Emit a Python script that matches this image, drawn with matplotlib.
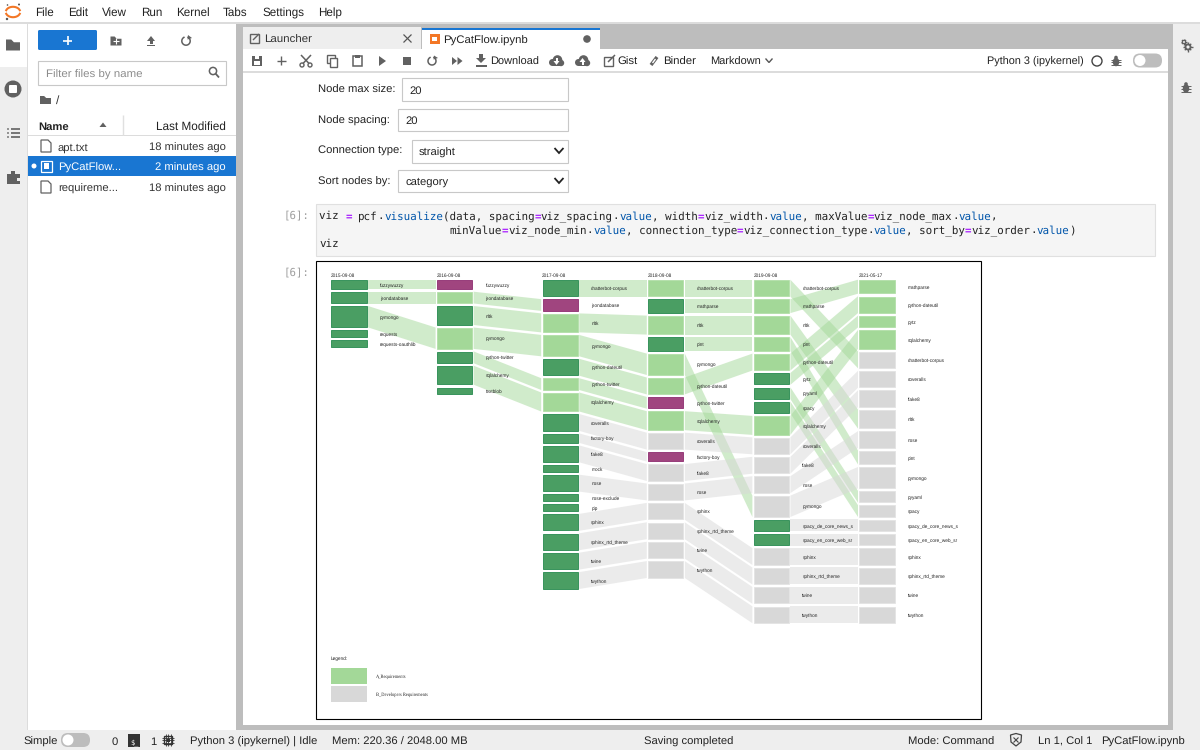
import re
import numpy as np
import matplotlib
matplotlib.use("Agg")
import matplotlib.pyplot as plt
from matplotlib.patches import Rectangle, Polygon, Circle, Ellipse, FancyBboxPatch

plt.rcParams["text.hinting"] = "none"

# ---------- chart data ----------
dates = ["2015-09-08", "2016-09-08", "2017-09-08", "2018-09-08", "2019-09-08", "2021-05-17"]

names_2015 = ["fuzzywuzzy", "jsondatabase", "pymongo", "requests", "requests-oauthlib"]
sizes_2015 = [9.5, 11.8, 21.4, 7.4, 7.4]
kinds_2015 = ["N", "N", "N", "N", "N"]

names_2016 = ["fuzzywuzzy", "jsondatabase", "nltk", "pymongo", "python-twitter", "sqlalchemy", "textblob"]
sizes_2016 = [9.5, 11.8, 19, 21.4, 11.8, 19, 7.4]
kinds_2016 = ["X", "A", "N", "A", "N", "N", "N"]

names_2017 = ["chatterbot-corpus", "jsondatabase", "nltk", "pymongo", "python-dateutil", "python-twitter",
              "sqlalchemy", "coveralls", "factory-boy", "flake8", "mock", "nose", "nose-exclude", "pip",
              "sphinx", "sphinx_rtd_theme", "twine", "twython"]
sizes_2017 = [16.9, 11.8, 19, 21.4, 16.9, 11.8, 19, 16.9, 9.5, 16.9, 7.4, 16.9, 7.4, 7.4, 16.9, 16.9, 16.9, 16.9]
kinds_2017 = ["N", "X", "A", "A", "N", "A", "A", "N", "N", "N", "N", "N", "N", "N", "N", "N", "N", "N"]

names_2018 = ["chatterbot-corpus", "mathparse", "nltk", "pint", "pymongo", "python-dateutil", "python-twitter",
              "sqlalchemy", "coveralls", "factory-boy", "flake8", "nose", "sphinx", "sphinx_rtd_theme",
              "twine", "twython"]
sizes_2018 = [16.9, 14, 19, 14, 21.4, 16.9, 11.8, 19, 16.9, 9.5, 16.9, 16.9, 16.9, 16.9, 16.9, 16.9]
kinds_2018 = ["A", "N", "A", "N", "A", "A", "X", "A", "B", "X", "B", "B", "B", "B", "B", "B"]

names_2019 = ["chatterbot-corpus", "mathparse", "nltk", "pint", "python-dateutil", "pytz", "pyyaml", "spacy",
              "sqlalchemy", "coveralls", "flake8", "nose", "pymongo", "spacy_de_core_news_s",
              "spacy_en_core_web_sr", "sphinx", "sphinx_rtd_theme", "twine", "twython"]
sizes_2019 = [16.9, 14, 19, 14, 16.9, 11.8, 11.8, 11.8, 19, 16.9, 16.9, 16.9, 21.4, 11.8, 11.8, 16.9, 16.9, 16.9, 16.9]
kinds_2019 = ["A", "A", "A", "A", "A", "N", "N", "N", "A", "B", "B", "B", "B", "N", "N", "B", "B", "B", "B"]

names_2021 = ["mathparse", "python-dateutil", "pytz", "sqlalchemy", "chatterbot-corpus", "coveralls", "flake8",
              "nltk", "nose", "pint", "pymongo", "pyyaml", "spacy", "spacy_de_core_news_s",
              "spacy_en_core_web_sr", "sphinx", "sphinx_rtd_theme", "twine", "twython"]
sizes_2021 = [14, 16.9, 11.8, 19, 16.9, 16.9, 16.9, 19, 16.9, 14, 21.4, 11.8, 11.8, 11.8, 11.8, 16.9, 16.9, 16.9, 16.9]
kinds_2021 = ["A", "A", "A", "A", "B", "B", "B", "B", "B", "B", "B", "B", "B", "B", "B", "B", "B", "B", "B"]

dev_packages = ["coveralls", "factory-boy", "flake8", "mock", "nose", "nose-exclude", "pip", "sphinx",
                "sphinx_rtd_theme", "twine", "twython", "spacy_de_core_news_s", "spacy_en_core_web_sr"]
legend_labels = ["A_Requirements", "B_Developers Requirements"]

columns = [(names_2015, sizes_2015, kinds_2015), (names_2016, sizes_2016, kinds_2016),
           (names_2017, sizes_2017, kinds_2017), (names_2018, sizes_2018, kinds_2018),
           (names_2019, sizes_2019, kinds_2019), (names_2021, sizes_2021, kinds_2021)]

# ---------- style ----------
UI = "Liberation Sans"
MONO = "DejaVu Sans Mono"
PX = 0.72
INK = "#333333"
GUT = "#bdbdbd"
PANEL = "#eeeeee"
BLUE = "#1976d2"
ICON = "#616161"
NODE = {"N": ("#4a9e63", "#26894f"), "A": ("#a3d898", "#b2dfa8"),
        "B": ("#d8d8d8", "#e3e3e3"), "X": ("#a0457f", "#8e2c70")}
LINK_A, LINK_B = "#a3d898", "#d8d8d8"

fig = plt.figure(figsize=(12, 7.5), dpi=100, facecolor="white")
ax = fig.add_axes([0, 0, 1, 1])
ax.set_xlim(0, 1200)
ax.set_ylim(750, 0)
ax.axis("off")


def rect(x0, y0, x1, y1, fc, ec="none", lw=0, z=1, alpha=None):
    ax.add_patch(Rectangle((x0, y0), x1 - x0, y1 - y0, fc=fc, ec=ec, lw=lw, zorder=z, alpha=alpha))


def rrect(x0, y0, x1, y1, fc, r=2, ec="none", lw=0, z=3):
    ax.add_patch(FancyBboxPatch((x0 + r, y0 + r), x1 - x0 - 2 * r, y1 - y0 - 2 * r,
                                boxstyle=f"round,pad={r},rounding_size={r}", fc=fc, ec=ec, lw=lw, zorder=z))


def txt(x, y, s, px=11.2, color=INK, ha="left", fam=UI, weight="normal", z=6):
    # y is the visual middle of the x-height/cap band; the baseline keeps every line of text level
    ax.text(x, y + 0.36 * px, s, fontsize=px * PX, color=color, ha=ha, va="baseline", family=fam, weight=weight, zorder=z)


def line(xs, ys, color=ICON, lw=1.2, z=5):
    ax.plot(xs, ys, color=color, lw=lw, zorder=z, solid_capstyle="butt", solid_joinstyle="miter")


def poly(pts, fc=ICON, ec="none", lw=0, z=5):
    ax.add_patch(Polygon(pts, closed=True, fc=fc, ec=ec, lw=lw, zorder=z))


def circ(x, y, r, fc=ICON, ec="none", lw=0, z=5):
    ax.add_patch(Circle((x, y), r, fc=fc, ec=ec, lw=lw, zorder=z))


def folder(x, y, w=14, h=11, c=ICON):
    poly([(x - w / 2, y - h / 2), (x - w / 8, y - h / 2), (x + w / 16, y - h / 4), (x + w / 2, y - h / 4),
          (x + w / 2, y + h / 2), (x - w / 2, y + h / 2)], fc=c)


def file_icon(x, y, c=ICON):
    poly([(x - 5, y - 6), (x + 2, y - 6), (x + 5, y - 3), (x + 5, y + 6), (x - 5, y + 6)], fc="none", ec=c, lw=0.9)


def cloud(x, y, c=ICON, up=True):
    circ(x - 4, y + 1.5, 3.5, fc=c)
    circ(x + 1, y - 1, 4.8, fc=c)
    circ(x + 4.5, y + 2, 3.2, fc=c)
    rect(x - 4, y + 1, x + 5, y + 5, c, z=5)
    if up:
        poly([(x, y - 3), (x + 3, y + 1), (x - 3, y + 1)], fc="white", z=6)
        rect(x - 1, y + 1, x + 1, y + 4, "white", z=6)
    else:
        poly([(x, y + 4), (x + 3, y), (x - 3, y)], fc="white", z=6)
        rect(x - 1, y - 3, x + 1, y + 1, "white", z=6)


def bug(x, y, c=ICON):
    ax.add_patch(Ellipse((x, y + 0.5), 6.5, 8.5, fc=c, ec="none", zorder=5))
    circ(x, y - 4, 1.8, fc=c)
    for dy in (-2, 0.8, 3.6):
        line([x - 5.2, x + 5.2], [y + dy, y + dy], color=c, lw=0.7)


def gear(x, y, r, c=ICON):
    circ(x, y, r, fc=c)
    for a in np.deg2rad(np.arange(0, 180, 45)):
        line([x - 1.3 * r * np.cos(a), x + 1.3 * r * np.cos(a)], [y - 1.3 * r * np.sin(a), y + 1.3 * r * np.sin(a)],
             color=c, lw=1.0)
    circ(x, y, r * 0.45, fc=PANEL, z=6)


def toggle(x0, x1, y):
    rrect(x0, y - 7, x1, y + 7, "#bdbdbd", r=6.8, z=4)
    circ(x0 + 7, y, 5.5, fc="white", z=5)


def chevron(x, y, c="#222222", w=4.5, h=2.5, lw=1.3):
    line([x - w, x, x + w], [y - h, y + h, y - h], color=c, lw=lw)


# ---------- application chrome ----------
rect(0, 0, 1200, 750, "white", z=0)
rect(0, 22, 1200, 24, "#dcdcdc")
rect(0, 67, 27, 730, PANEL)
rect(27, 24, 28, 730, "#dcdcdc")
rect(236, 24, 243, 730, GUT)
rect(243, 24, 1173, 49, GUT)
rect(243, 725, 1173, 730, GUT)
rect(1168, 24, 1173, 730, GUT)
rect(1173, 24, 1200, 730, PANEL)
rect(0, 730, 1200, 750, PANEL)

# logo
for a0, a1 in ((200, 340), (20, 160)):
    t = np.deg2rad(np.linspace(a0, a1, 20))
    ax.plot(13 + 7.2 * np.cos(t), 12 + 5.2 * np.sin(t), color="#f37726", lw=1.5, zorder=5)
circ(19, 4.5, 1, fc="#555555")
circ(7, 19, 1.2, fc="#555555")
circ(7.5, 5, 0.8, fc="#555555")

for x, s in zip([35, 68, 102, 141, 176, 223, 262, 318],
                ["File", "Edit", "View", "Run", "Kernel", "Tabs", "Settings", "Help"]):
    txt(x, 12, s, 11.6, "#222222")

# activity bar
folder(13, 45, 14, 11)
circ(13, 89, 8.5)
rrect(9, 85, 17, 93, "white", r=1, z=6)
for y in (129, 133, 137):
    circ(8, y, 0.9)
    line([11, 20], [y, y], lw=1.2)
poly([(7, 174), (11, 174), (11, 171), (15, 171), (15, 174), (20, 174), (20, 178), (17, 178), (17, 181), (20, 181),
      (20, 184), (7, 184)])

# file browser
rrect(38, 30, 97, 50, BLUE, r=1.5)
line([67.5, 67.5], [36, 45], color="white", lw=1.2)
line([63, 72], [40.5, 40.5], color="white", lw=1.2)
folder(116, 41, 11, 9)
line([116, 116], [38, 44], color="white", lw=0.8, z=6)
line([113, 119], [41, 41], color="white", lw=0.8, z=6)
poly([(151, 36), (155, 41), (147, 41)])
rect(149.5, 41, 152.5, 44, ICON, z=5)
rect(147, 45, 155, 46.3, ICON, z=5)
t = np.deg2rad(np.linspace(-60, 240, 30))
ax.plot(186 + 4.2 * np.cos(t), 41 + 4.2 * np.sin(t), color=ICON, lw=1.1, zorder=5)
poly([(188, 35), (192, 38), (187.5, 39.5)])

rect(38, 61, 225.5, 85, "white", "#c8c8c8", 0.8, z=3)
txt(46, 73.5, "Filter files by name", 11.5, "#8c8c8c")
circ(213, 71, 3.6, fc="none", ec=ICON, lw=1.1)
line([215.5, 219], [73.5, 77.5], lw=1.3)
folder(45.5, 100, 11, 8)
txt(56, 100, "/", 12, "#333333")
txt(38, 125.5, "Name", 11.2, "#222222", weight="bold")
poly([(103, 122.5), (106.5, 127), (99.5, 127)])
line([122.5, 122.5], [115, 135], color="#e0e0e0", lw=1)
txt(225.5, 125.5, "Last Modified", 11.7, "#222222", ha="right")
rect(28, 134.5, 236, 135.5, "#dcdcdc")
rect(28, 156, 236, 176, BLUE, z=2)
file_icon(46, 146)
file_icon(46, 187)
rect(40.5, 160.5, 51.5, 172, "none", "white", 0.9, z=5)
rect(43.5, 163, 48.5, 169, "white", z=5)
circ(34, 166, 2.5, fc="white")
txt(58, 146.5, "apt.txt", 11.2, INK)
txt(58, 166.5, "PyCatFlow...", 11.2, "white")
txt(58, 187.5, "requireme...", 11.2, INK)
txt(225.5, 146.5, "18 minutes ago", 11.2, INK, ha="right")
txt(225.5, 166.5, "2 minutes ago", 11.2, "white", ha="right")
txt(225.5, 187.5, "18 minutes ago", 11.2, INK, ha="right")

# tabs
rect(243, 27, 421, 49, PANEL, z=2)
rect(422, 28, 600, 49, "white", z=2)
rect(422, 28, 600, 30, BLUE, z=3)
rect(250, 33.5, 258.5, 42.5, "none", ICON, 1, z=4)
line([253, 259], [40, 34], lw=1)
txt(264, 38.5, "Launcher", 11.5, INK)
line([403.5, 411.5], [34.5, 42.5], color="#555555", lw=0.9)
line([403.5, 411.5], [42.5, 34.5], color="#555555", lw=0.9)
rect(429.5, 34, 439.5, 44, "#f37726", z=4)
rect(432, 36.5, 437, 41, "white", z=5)
txt(443, 39.5, "PyCatFlow.ipynb", 11.4, "#222222")
circ(587, 39, 3.8)

# notebook toolbar
rect(243, 71.3, 1168, 73, "#dcdcdc")
rect(252, 55.5, 262, 65.5, ICON, z=4)
rect(254, 60.5, 260, 65, "white", z=5)
rect(254.5, 56, 259, 58.5, "white", z=5)
line([281, 281], [56, 65], lw=1)
line([276.5, 285.5], [60.5, 60.5], lw=1)
circ(302, 65, 2, fc="none", ec=ICON, lw=1)
circ(310, 65, 2, fc="none", ec=ICON, lw=1)
line([303, 311], [63.5, 55], lw=1.1)
line([309, 301], [63.5, 55], lw=1.1)
rect(327, 55, 334.5, 63, "none", ICON, 1, z=4)
rect(330, 58, 337, 66.5, "white", ICON, 1, z=5)
rect(352.5, 56, 362, 66, "none", ICON, 1.1, z=4)
rect(355, 54.5, 359.5, 57.5, ICON, z=5)
poly([(379, 56), (386, 61), (379, 66)])
rect(403, 57, 411, 65, ICON, z=4)
t = np.deg2rad(np.linspace(-60, 240, 30))
ax.plot(432 + 4 * np.cos(t), 61 + 4 * np.sin(t), color=ICON, lw=1.1, zorder=5)
poly([(434, 55.5), (438, 58), (433.5, 59.5)])
poly([(452, 57), (457, 61), (452, 65)])
poly([(457.5, 57), (462.5, 61), (457.5, 65)])
poly([(481, 63), (486, 58), (483, 58), (483, 54), (479, 54), (479, 58), (476, 58)])
rect(476, 65, 487, 66.5, ICON, z=4)
txt(490, 60.5, "Download", 11, "#222222")
cloud(556.5, 61, up=False)
cloud(582.5, 61, up=True)
rect(604, 57, 613, 66, "none", ICON, 1, z=4)
line([608, 615], [62, 55], lw=1.1)
txt(617.5, 60.5, "Gist", 11.4, "#222222")
line([651, 657], [65, 57], lw=2.5)
line([652.5, 655.5], [63, 59], color="white", lw=1, z=6)
txt(663, 60.5, "Binder", 11.4, "#222222")
txt(710, 60.5, "Markdown", 11, "#222222")
chevron(769, 60.5, "#555555", 3.5, 2, 1)
txt(1084, 60.5, "Python 3 (ipykernel)", 10.9, "#222222", ha="right")
circ(1097, 61, 5, fc="none", ec="#444444", lw=1)
bug(1116, 61.5)
toggle(1133, 1162, 60.5)
gear(1184, 42, 2.2)
gear(1188, 47, 3.5)
bug(1186, 88)

# widgets
for label, ly in [("Node max size:", 89), ("Node spacing:", 119.5), ("Connection type:", 150), ("Sort nodes by:", 181)]:
    txt(318.5, ly, label, 11.2, "#222222")
for x0, y0, y1, val, tx in [(402, 78, 100.5, "20", 409), (398, 108.5, 131, "20", 405),
                            (412, 139.5, 162.5, "straight", 419), (398, 169.5, 192, "category", 406)]:
    rect(x0, y0, 568, y1, "white", "#c8c8c8", 0.8, z=3)
    txt(tx, (y0 + y1) / 2 + 0.3, val, 11.2, "#222222")
chevron(559, 150.5)
chevron(559, 180.5)

# code cell
rect(315.5, 203.5, 1154.5, 255.5, "#f5f5f5", "#e0e0e0", 0.8, z=2)
txt(309, 215, "[6]:", 10.8, "#9e9e9e", ha="right", fam=MONO)
txt(309, 272, "[6]:", 10.8, "#9e9e9e", ha="right", fam=MONO)
code_lines = ["viz = pcf.visualize(data, spacing=viz_spacing.value, width=viz_width.value, maxValue=viz_node_max.value,",
              "                    minValue=viz_node_min.value, connection_type=viz_connection_type.value, sort_by=viz_order.value)",
              "viz"]
CW = 6.525
for cy, code in zip((215.5, 229.5, 243.5), code_lines):
    for m in re.finditer(r"=|(?<=\.)(?:visualize|value)|[^=.]+|\.", code):
        tok = m.group()
        if tok.strip() == "":
            continue
        col = "#aa22ff" if tok == "=" else ("#0055aa" if tok in ("visualize", "value") else "#222222")
        lead = len(tok) - len(tok.lstrip())
        ax.text(319 + (m.start() + lead) * CW, cy + 3.9, tok.strip() if col != "#222222" else tok.lstrip(),
                fontsize=10.85 * PX, family=MONO, color=col, ha="left", va="baseline", zorder=6,
                weight="bold" if tok == "=" else "normal")

# status bar
txt(23, 740.5, "Simple", 11.3, "#222222")
toggle(61, 90, 740)
txt(112, 740.5, "0", 11.3, "#222222")
rect(128, 734, 140, 747, "#333333", z=4)
txt(130, 741.5, "$_", 7, "white", fam="DejaVu Sans Mono")
txt(150, 740.5, "1", 11.3, "#222222")
rect(164, 736, 172, 744, "none", "#333333", 1, z=4)
rect(166.5, 738.5, 169.5, 741.5, "#333333", z=4)
for d in (-2.5, 0, 2.5):
    line([168 + d, 168 + d], [734, 746], color="#333333", lw=0.6, z=3)
    line([162, 174], [740 + d, 740 + d], color="#333333", lw=0.6, z=3)
txt(190, 740.5, "Python 3 (ipykernel) | Idle", 11.3, "#222222")
txt(332, 740.5, "Mem: 220.36 / 2048.00 MB", 11.3, "#222222")
txt(644, 740.5, "Saving completed", 11.3, "#222222")
txt(908, 740.5, "Mode: Command", 11.2, "#222222")
poly([(1010.5, 735), (1016, 733.5), (1021.5, 735), (1021, 742), (1016, 746), (1011, 742)], fc="none", ec="#444444", lw=0.9)
line([1013.5, 1018.5], [737.5, 742.5], color="#444444", lw=0.8)
line([1013.5, 1018.5], [742.5, 737.5], color="#444444", lw=0.8)
txt(1038, 740.5, "Ln 1, Col 1", 11.3, "#222222")
txt(1101, 740.5, "PyCatFlow.ipynb", 11.3, "#222222")

# ---------- the chart ----------
rect(316, 261, 981, 719, "white", "black", 0.8, z=2)

COL_LEFT, COL_STEP, NODE_W, GAP, TOP = 331, 105.6, 36, 2.5, 279.7
LABEL_PX = 4.75
TEXT_CHART = "#222222"
positions = []
for i, (names, sizes, kinds) in enumerate(columns):
    x = COL_LEFT + i * COL_STEP
    y = TOP
    pos = {}
    for name, h, kind in zip(names, sizes, kinds):
        fc, ec = NODE[kind]
        ax.add_patch(Rectangle((x + 0.3, y + 0.3), NODE_W - 0.6, h - 0.6, fc=fc, ec=ec, lw=0.6, zorder=4))
        ax.text(x + NODE_W + 13, y + h / 2 + 2.1, name, fontsize=LABEL_PX * PX, family=UI, color=TEXT_CHART,
                ha="left", va="baseline", zorder=6)
        pos[name] = (y, h, kind)
        y += h + GAP
    positions.append(pos)
    ax.text(x, 276.7, dates[i], fontsize=LABEL_PX * PX, family=UI, color=TEXT_CHART, ha="left", va="baseline", zorder=6)

for i in range(len(columns) - 1):
    x0 = COL_LEFT + i * COL_STEP + NODE_W + 1
    x1 = COL_LEFT + (i + 1) * COL_STEP - 1
    for name, (y0, h0, kind) in positions[i].items():
        if name in positions[i + 1]:
            y1, h1, _ = positions[i + 1][name]
            gray = kind == "B" or name in dev_packages
            ax.add_patch(Polygon([(x0, y0), (x1, y1), (x1, y1 + h1), (x0, y0 + h0)], closed=True,
                                 fc=LINK_B if gray else LINK_A, ec="none", alpha=0.5, zorder=3))

# legend
ax.text(COL_LEFT, 660.2, "Legend:", fontsize=LABEL_PX * PX, family=UI, color=TEXT_CHART, va="baseline", zorder=6)
for key, label, y0 in zip(("A", "B"), legend_labels, (668, 686.3)):
    rect(COL_LEFT, y0, COL_LEFT + NODE_W, y0 + 15.7, NODE[key][0], z=4)
    ax.text(COL_LEFT + 45, y0 + 9.8, label, fontsize=4.5 * PX, family="Liberation Serif", color=TEXT_CHART,
            va="baseline", zorder=6)

fig.savefig("out.png", dpi=100, facecolor="white")
